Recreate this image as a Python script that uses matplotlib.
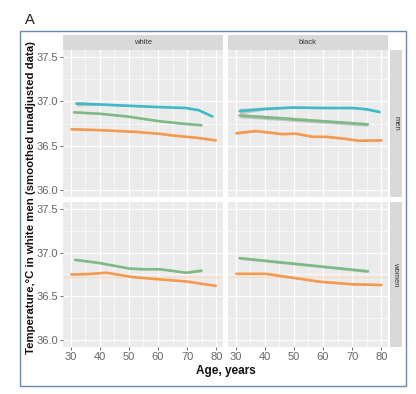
import matplotlib
matplotlib.use("Agg")
import matplotlib.pyplot as plt
from matplotlib.patches import Rectangle

# ---------------- data ----------------
races = ["white", "black"]
sexes = ["men", "women"]
x_ticks = [30, 40, 50, 60, 70, 80]
y_ticks = [36.0, 36.5, 37.0, 37.5]
y_tick_labels = ["36.0", "36.5", "37.0", "37.5"]

# white men
wm_blue_age = [32.0, 40.0, 50.0, 60.6, 69.5, 74.0, 78.6]
wm_blue = [36.975, 36.965, 36.95, 36.935, 36.925, 36.90, 36.83]
wm_blue_se = [0.028, 0.009, 0.006, 0.006, 0.006, 0.007, 0.009]
wm_green_age = [31.2, 40.0, 49.2, 60.6, 68.0, 74.9]
wm_green = [36.876, 36.86, 36.83, 36.775, 36.75, 36.73]
wm_green_se = [0.009, 0.006, 0.006, 0.006, 0.007, 0.009]
wm_orange_age = [30.3, 40.0, 52.6, 60.0, 66.3, 73.0, 79.8]
wm_orange = [36.685, 36.675, 36.655, 36.635, 36.61, 36.59, 36.56]
wm_orange_se = [0.006, 0.005, 0.005, 0.005, 0.005, 0.006, 0.007]

# black men
bm_blue_age = [31.4, 40.0, 49.5, 60.0, 70.2, 75.0, 79.4]
bm_blue = [36.89, 36.915, 36.93, 36.925, 36.925, 36.91, 36.88]
bm_blue_se = [0.032, 0.012, 0.007, 0.007, 0.007, 0.008, 0.011]
bm_green_age = [31.4, 75.4]
bm_green = [36.84, 36.74]
bm_green_se = [0.024, 0.02]
bm_orange_age = [30.3, 36.9, 46.0, 50.7, 56.4, 61.0, 66.8, 72.5, 80.0]
bm_orange = [36.64, 36.665, 36.63, 36.635, 36.60, 36.60, 36.58, 36.555, 36.56]
bm_orange_se = [0.012, 0.007, 0.007, 0.007, 0.007, 0.007, 0.007, 0.008, 0.011]

# white women
ww_green_age = [31.6, 40.1, 50.4, 55.0, 60.6, 69.8, 74.9]
ww_green = [36.918, 36.88, 36.817, 36.81, 36.81, 36.77, 36.795]
ww_green_se = [0.009, 0.006, 0.006, 0.006, 0.006, 0.007, 0.014]
ww_orange_age = [30.3, 36.0, 42.3, 51.4, 60.6, 69.8, 79.8]
ww_orange = [36.75, 36.755, 36.77, 36.72, 36.694, 36.67, 36.62]
ww_orange_se = [0.006, 0.005, 0.005, 0.005, 0.005, 0.005, 0.007]

# black women
bw_green_age = [31.4, 75.4]
bw_green = [36.937, 36.787]
bw_green_se = [0.014, 0.014]
bw_orange_age = [30.3, 40.3, 49.5, 58.7, 70.2, 80.0]
bw_orange = [36.758, 36.758, 36.713, 36.668, 36.638, 36.63]
bw_orange_se = [0.007, 0.006, 0.006, 0.006, 0.006, 0.008]

faint_ref = 36.72

BLUE = "#3DB9C9"
GREEN = "#7FBA82"
ORANGE = "#F5994D"

panels = {
    ("men", "white"): [(wm_blue_age, wm_blue, wm_blue_se, BLUE),
                       (wm_green_age, wm_green, wm_green_se, GREEN),
                       (wm_orange_age, wm_orange, wm_orange_se, ORANGE)],
    ("men", "black"): [(bm_blue_age, bm_blue, bm_blue_se, BLUE),
                       (bm_green_age, bm_green, bm_green_se, GREEN),
                       (bm_orange_age, bm_orange, bm_orange_se, ORANGE)],
    ("women", "white"): [(ww_green_age, ww_green, ww_green_se, GREEN),
                         (ww_orange_age, ww_orange, ww_orange_se, ORANGE)],
    ("women", "black"): [(bw_green_age, bw_green, bw_green_se, GREEN),
                         (bw_orange_age, bw_orange, bw_orange_se, ORANGE)],
}

# ---------------- layout ----------------
W, H = 416, 394
fig = plt.figure(figsize=(W / 100, H / 100), dpi=100)
fig.patch.set_facecolor("white")
FONT = "Liberation Sans"


def box(x0, y0, x1, y1):
    return [x0 / W, 1 - y1 / H, (x1 - x0) / W, (y1 - y0) / H]


col_x = {"white": (63, 223), "black": (228, 388)}
row_y = {"men": (50, 197), "women": (202, 347)}

# outer frame
fig.patches.append(Rectangle((20 / W, 1 - 386 / H), 386 / W, 355 / H,
                             transform=fig.transFigure, fill=False,
                             edgecolor="#6A87B0", linewidth=1.0))

fig.text(30 / W, 1 - 20 / H, "A", fontsize=10.5, family=FONT, color="#222222",
         ha="center", va="center")

for sex in sexes:
    for race in races:
        x0, x1 = col_x[race]
        y0, y1 = row_y[sex]
        ax = fig.add_axes(box(x0, y0, x1, y1))
        ax.set_facecolor("#EBEBEB")
        ax.set_xlim(27.4, 82.3)
        ax.set_ylim(35.92, 37.58)
        ax.set_xticks(x_ticks)
        ax.set_xticks([35, 45, 55, 65, 75], minor=True)
        ax.set_yticks(y_ticks)
        ax.set_yticks([36.25, 36.75, 37.25], minor=True)
        ax.grid(True, which="major", color="white", linewidth=0.9)
        ax.grid(True, which="minor", color="white", linewidth=0.45)
        ax.set_axisbelow(True)
        for s in ax.spines.values():
            s.set_visible(False)
        ax.tick_params(which="minor", length=0)
        ax.tick_params(which="major", length=2, color="#555555", width=0.6,
                       labelsize=8, labelcolor="#666666", pad=1.5)
        if race == "white":
            ax.set_yticklabels(y_tick_labels, family=FONT)
        else:
            ax.tick_params(axis="y", left=False, labelleft=False)
        if sex == "women":
            ax.set_xticklabels([str(v) for v in x_ticks], family=FONT)
        else:
            ax.tick_params(axis="x", bottom=False, labelbottom=False)
        if sex == "women":
            ax.axhline(faint_ref, color="#FAD9BC", linewidth=0.8, zorder=1)
        for age, val, se, col in panels[(sex, race)]:
            lo = [v - s for v, s in zip(val, se)]
            hi = [v + s for v, s in zip(val, se)]
            ax.fill_between(age, lo, hi, color="#A8A8A8", alpha=0.6,
                            linewidth=0, zorder=2)
            ax.plot(age, val, color=col, linewidth=1.9, solid_capstyle="round",
                    solid_joinstyle="round", zorder=3)

# top strips
for race in races:
    x0, x1 = col_x[race]
    sax = fig.add_axes(box(x0, 35, x1, 50))
    sax.set_facecolor("#D9D9D9")
    sax.set_xticks([]); sax.set_yticks([])
    for s in sax.spines.values():
        s.set_visible(False)
    sax.text(0.5, 0.5, race, transform=sax.transAxes, ha="center", va="center",
             fontsize=5.5, color="#333333", family=FONT)

# right strips
for sex in sexes:
    y0, y1 = row_y[sex]
    sax = fig.add_axes(box(390, y0, 402, y1))
    sax.set_facecolor("#D9D9D9")
    sax.set_xticks([]); sax.set_yticks([])
    for s in sax.spines.values():
        s.set_visible(False)
    sax.text(0.5, 0.5, sex, transform=sax.transAxes, ha="center", va="center",
             fontsize=5.5, color="#333333", family=FONT, rotation=-90)

fig.text(31 / W, 1 - 198 / H,
         "Temperature,\u00b0C in white men (smoothed unadjusted data)",
         rotation=90, ha="center", va="center", fontsize=8.2,
         fontweight="bold", family=FONT, color="#111111")
fig.text(226 / W, 1 - 371 / H, "Age, years", ha="center", va="center",
         fontsize=8.5, fontweight="bold", family=FONT, color="#111111")

fig.savefig("out.png", dpi=100, facecolor="white")
